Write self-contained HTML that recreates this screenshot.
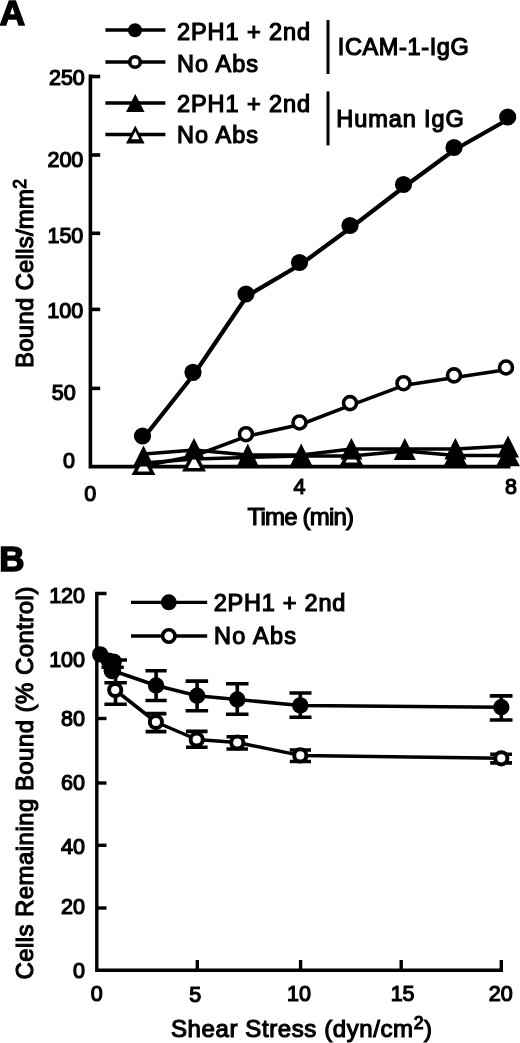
<!DOCTYPE html>
<html><head><meta charset="utf-8"><title>Figure</title>
<style>
html,body{margin:0;padding:0;background:#fff;}
body{width:520px;height:1043px;overflow:hidden;}
svg{display:block;filter:blur(0.35px);}
text{font-family:"Liberation Sans",Arial,Helvetica,sans-serif;fill:#000;}
.pl{font-size:35px;font-weight:bold;stroke:#000;stroke-width:1.6px;}
.tk{font-size:21.5px;stroke:#000;stroke-width:1.2px;}
.lg{font-size:23.5px;stroke:#000;stroke-width:1.2px;}
.ax{font-size:24px;stroke:#000;stroke-width:1.15px;}
</style></head>
<body>
<svg width="520" height="1043" viewBox="0 0 520 1043">
<rect width="520" height="1043" fill="#fff"/>

<!-- ================= Panel A ================= -->
<text class="pl" x="-0.3" y="24.6">A</text>

<!-- legend A -->
<g stroke="#000" stroke-width="3.5" fill="none">
  <line x1="105.4" y1="30" x2="165.4" y2="30"/>
  <line x1="105.4" y1="62" x2="165.4" y2="62"/>
  <line x1="105.4" y1="103" x2="165.4" y2="103"/>
  <line x1="105.4" y1="134.6" x2="165.4" y2="134.6"/>
  <line x1="328" y1="20" x2="328" y2="74" stroke-width="3"/>
  <line x1="328" y1="91.4" x2="328" y2="145.4" stroke-width="3"/>
</g>
<circle cx="135" cy="30.3" r="7" fill="#000"/>
<circle cx="135" cy="62" r="5.3" fill="#fff" stroke="#000" stroke-width="3.6"/>
<polygon points="135.3,94 126,112 144.6,112" fill="#000"/>
<polygon points="135.3,125.5 126,143.5 144.6,143.5" fill="#000"/>
<polygon points="135.3,131.3 131.3,139.2 139.3,139.2" fill="#fff"/>

<text class="lg" x="177" y="39.5" textLength="133">2PH1 + 2nd</text>
<text class="lg" x="177" y="71.5" textLength="81">No Abs</text>
<text class="lg" x="177" y="112" textLength="133">2PH1 + 2nd</text>
<text class="lg" x="177" y="143.2" textLength="81">No Abs</text>
<text class="lg" x="337.8" y="54.8" textLength="131">ICAM-1-IgG</text>
<text class="lg" x="336.3" y="127" textLength="127.5">Human IgG</text>

<!-- axes A -->
<g stroke="#000" stroke-width="3.6" fill="none">
  <polyline points="90.4,74.6 90.4,466.6 510.4,466.6"/>
  <line x1="90.4" y1="76.5" x2="100.2" y2="76.5"/>
  <line x1="90.4" y1="155" x2="100.2" y2="155"/>
  <line x1="90.4" y1="233.3" x2="100.2" y2="233.3"/>
  <line x1="90.4" y1="309.4" x2="100.2" y2="309.4"/>
  <line x1="90.4" y1="388.4" x2="100.2" y2="388.4"/>
</g>
<g class="tk" text-anchor="end">
  <text x="84.8" y="84.5">250</text>
  <text x="83.3" y="167">200</text>
  <text x="83.3" y="242.5">150</text>
  <text x="83.2" y="318">100</text>
  <text x="75.6" y="400">50</text>
  <text x="75" y="468.3">0</text>
</g>
<g class="tk" text-anchor="middle">
  <text x="90.2" y="501">0</text>
  <text x="299.4" y="493.5">4</text>
  <text x="511" y="494">8</text>
</g>
<text class="ax" x="247.5" y="525.3" textLength="106.5">Time (min)</text>
<text class="ax" transform="translate(32.6,368) rotate(-90)" x="0" y="0" textLength="189">Bound Cells/mm<tspan dy="-6.3" font-size="17.5">2</tspan></text>

<!-- data A: lines -->
<g stroke="#000" stroke-width="3.5" fill="none" stroke-linejoin="round">
  <!-- open triangles (human IgG, no abs) -->
  <polyline points="144,463 194.5,459 247.5,457.5 301,456 351.5,456 405,451 455.5,455.5 507.5,455.5"/>
  <!-- filled triangles -->
  <polyline points="144,454 194.5,450 247.5,455 301,455 351.5,449 405,449 455.5,449 507.5,446"/>
  <!-- open circles -->
  <polyline transform="translate(1,2)" stroke-width="3.5" points="142.5,464 193,454 246,434.2 299.5,422.5 350,403.1 403.5,383.2 454,375.4 506.5,367.5"/>
  <!-- filled circles -->
  <polyline transform="translate(1,2)" stroke-width="4.2" points="142.5,436 193,372.3 246,294 299.5,262.5 350,225.5 403.5,184.5 454,147.5 507.7,117"/>
</g>
<!-- open triangles markers -->
<g fill="#fff" stroke="#000" stroke-width="3.6" stroke-linejoin="miter">
  <polygon points="143.5,456.5 134.5,473.2 152.5,473.2"/>
  <polygon points="194,452.5 185,469.7 203,469.7"/>
  <polygon points="351.5,447 342.5,464.2 360.5,464.2"/>
  <polygon points="455.5,447.5 446.5,464.5 464.5,464.5" fill="#000"/>
  <polygon points="508,447.5 499,464.5 517,464.5" fill="#000"/>
</g>
<!-- filled triangles markers -->
<g fill="#000">
  <polygon points="143.5,445.5 133,466.5 154,466.5"/>
  <polygon points="194,438 183,459.5 205,459.5"/>
  <polygon points="247.8,443.5 237.3,465.5 258.3,465.5"/>
  <polygon points="301.2,443.5 290.2,465.5 312.2,465.5"/>
  <polygon points="351.4,438 340.4,459.5 362.4,459.5"/>
  <polygon points="404.8,438 393.8,460 415.8,460"/>
  <polygon points="455.4,438 444.4,459.5 466.4,459.5"/>
  <polygon points="508,435.5 497,457.5 519,457.5"/>
</g>
<!-- open circles markers -->
<g fill="#fff" stroke="#000" stroke-width="3.6">
  <circle cx="246" cy="434.2" r="6.5"/>
  <circle cx="299.5" cy="422.5" r="6.5"/>
  <circle cx="350" cy="403.1" r="6.5"/>
  <circle cx="403.5" cy="383.2" r="6.5"/>
  <circle cx="454" cy="375.4" r="6.5"/>
  <circle cx="506" cy="367.5" r="6.5"/>
</g>
<!-- filled circles markers -->
<g fill="#000">
  <circle cx="142.5" cy="436" r="8.6"/>
  <circle cx="193" cy="372.3" r="8.6"/>
  <circle cx="246" cy="294" r="8.6"/>
  <circle cx="299.5" cy="262.5" r="8.6"/>
  <circle cx="350" cy="225.5" r="8.6"/>
  <circle cx="403.5" cy="184.5" r="8.6"/>
  <circle cx="454" cy="147.5" r="8.6"/>
  <circle cx="507.7" cy="117" r="8.6"/>
</g>

<!-- ================= Panel B ================= -->
<text class="pl" x="-0.8" y="571.3">B</text>

<!-- legend B -->
<g stroke="#000" stroke-width="3.3" fill="none">
  <line x1="131" y1="602.3" x2="207.2" y2="602.3"/>
  <line x1="131" y1="636" x2="207.2" y2="636"/>
</g>
<circle cx="168.8" cy="602.3" r="8" fill="#000"/>
<circle cx="168.8" cy="636" r="6.2" fill="#fff" stroke="#000" stroke-width="3.6"/>
<text class="lg" x="213.8" y="611" textLength="131.5">2PH1 + 2nd</text>
<text class="lg" x="214" y="643.5" textLength="82">No Abs</text>

<!-- axes B -->
<g stroke="#000" stroke-width="3.4" fill="none">
  <polyline points="106.5,593.5 96.8,593.5 96.8,970.2 501.3,970.2 501.3,960"/>
  <line x1="96.8" y1="656.3" x2="106.5" y2="656.3"/>
  <line x1="96.8" y1="718.5" x2="106.5" y2="718.5"/>
  <line x1="96.8" y1="783" x2="106.5" y2="783"/>
  <line x1="96.8" y1="845.3" x2="106.5" y2="845.3"/>
  <line x1="96.8" y1="908" x2="106.5" y2="908"/>
  <line x1="197.3" y1="970.2" x2="197.3" y2="960"/>
  <line x1="300.6" y1="970.2" x2="300.6" y2="960"/>
  <line x1="401.2" y1="970.2" x2="401.2" y2="960"/>
</g>
<g class="tk" text-anchor="end">
  <text x="85" y="602.5">120</text>
  <text x="85" y="666.5">100</text>
  <text x="85" y="725.7">80</text>
  <text x="85" y="789.8">60</text>
  <text x="85" y="853.8">40</text>
  <text x="85" y="914.3">20</text>
  <text x="85" y="978">0</text>
</g>
<g class="tk" text-anchor="middle">
  <text x="96.8" y="1001">0</text>
  <text x="195.3" y="1001.5">5</text>
  <text x="299" y="1001">10</text>
  <text x="402.6" y="1000.8">15</text>
  <text x="500.8" y="1001">20</text>
</g>
<text class="ax" x="171" y="1037.3" textLength="261">Shear Stress (dyn/cm<tspan dy="-8" font-size="17.5">2</tspan><tspan dy="8">)</tspan></text>
<text class="ax" transform="translate(33.2,979.6) rotate(-90)" x="0" y="0" textLength="393">Cells Remaining Bound (% Control)</text>

<!-- data B -->
<g stroke="#000" stroke-width="3.5" fill="none" stroke-linejoin="round">
  <polyline points="115.2,690 155.9,722 196.7,739.5 237.3,742.5 300.3,755.4 501.3,758.3"/>
  <polyline points="100.3,654.3 113.5,661.8 112.3,670.5 156.1,685.5 197.1,695.8 237.3,699.5 300.3,705.4 501.3,707.3"/>
</g>
<!-- error bars B -->
<g stroke="#000" stroke-width="3.6" fill="none">
  <!-- filled -->
  <path d="M115.6,660V682.6 M106,660H127 M101.5,667.3H123.8"/>
  <path d="M156.1,670.7V700.5 M145.5,670.7H166.7 M145.5,700.5H166.7"/>
  <path d="M197.1,681.1V710.8 M185.6,681.1H208.1 M185.6,710.8H208.1"/>
  <path d="M237.3,683.8V714.3 M226,683.8H248.5 M226,714.3H248.5"/>
  <path d="M300.3,693V717.2 M289.5,693H311.5 M289.5,717.2H311.5"/>
  <path d="M501.3,695.9V720 M489.8,695.9H512.5 M489.8,720H512.5"/>
  <!-- open -->
  <path d="M115.5,682.8V704.2 M104.4,682.8H126.8 M104.4,704.2H126.8"/>
  <path d="M155.9,713.6V731.6 M145.6,713.6H166.4 M145.6,731.6H166.4"/>
  <path d="M196.7,731.4V747.3 M186,731.4H207.6 M186,747.3H207.6"/>
  <path d="M237.3,736.7V749 M226.5,736.7H248 M226.5,749H248"/>
  <path d="M300.3,750V761.5 M289.8,750H311 M289.8,761.5H311"/>
  <path d="M501.3,754.2V762.9 M490.2,754.2H512 M490.2,762.9H512"/>
</g>
<g fill="#fff" stroke="#000" stroke-width="4">
  <circle cx="115.2" cy="690" r="6.1"/>
  <circle cx="155.9" cy="722" r="6.1"/>
  <circle cx="196.7" cy="739.5" r="6.1"/>
  <circle cx="237.3" cy="742.5" r="6.1"/>
  <circle cx="300.3" cy="755.4" r="6.1"/>
  <circle cx="501.3" cy="758.3" r="6.1"/>
</g>
<g fill="#000">
  <circle cx="100.2" cy="654.4" r="8.2"/>
  <circle cx="108.5" cy="660.5" r="8"/>
  <circle cx="113.5" cy="661.8" r="8.4"/>
  <circle cx="112.3" cy="670.5" r="8.8"/>
  <circle cx="156.1" cy="685.5" r="8.2"/>
  <circle cx="197.1" cy="695.8" r="8.2"/>
  <circle cx="237.3" cy="699.5" r="8.2"/>
  <circle cx="300.3" cy="705.4" r="8.2"/>
  <circle cx="501.3" cy="707.3" r="8.2"/>
</g>
</svg>
</body></html>
